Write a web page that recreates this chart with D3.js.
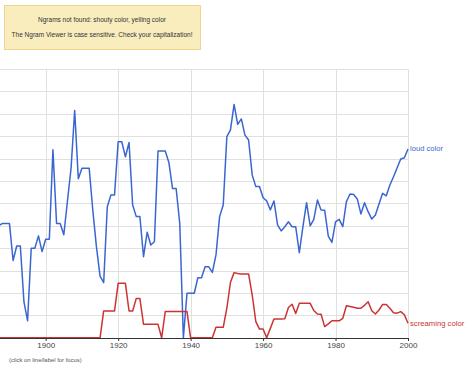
<!DOCTYPE html>
<html>
<head>
<meta charset="utf-8">
<script src="https://cdn.jsdelivr.net/npm/d3@7"></script>
<style>
  body { margin: 0; background: #fff; }
  svg { display: block; font-family: "Liberation Sans", Arial, sans-serif; }
</style>
</head>
<body>
<div id="chart"></div>
<script>
// Ngram chart: "loud color" vs "screaming color" (y axis cut off on the left)
const years = d3.range(1887, 2001);

const loudColor = [
    5.0, 5.1, 5.1, 5.1, 3.45, 4.1, 4.1, 1.6, 0.76, 4.0,          // 1887-1896
    4.0, 4.55, 3.85, 4.4, 4.4, 8.4, 5.1, 5.1, 4.6, 6.1,          // 1897-1906
    7.57, 10.15, 7.1, 7.57, 7.57, 7.57, 5.7, 4.07, 2.75, 2.46,   // 1907-1916
    5.85, 6.38, 6.38, 8.75, 8.75, 8.08, 8.72, 5.93, 5.41, 5.41,  // 1917-1926
    3.62, 4.71, 4.14, 4.29, 8.34, 8.34, 8.34, 7.83, 6.67, 6.67,  // 1927-1936
    5.11, 0.0, 1.99, 1.99, 1.99, 2.68, 2.68, 3.17, 3.17, 2.92,   // 1937-1946
    3.7, 5.41, 5.93, 8.98, 9.28, 10.42, 9.53, 9.77, 9.05, 8.83,  // 1947-1956
    7.27, 6.75, 6.75, 6.25, 6.11, 5.71, 6.11, 5.04, 4.77, 4.96,  // 1957-1966
    5.18, 4.96, 4.96, 3.8, 4.96, 6.03, 5.0, 5.29, 6.15, 5.71,    // 1967-1976
    5.69, 4.54, 4.26, 5.18, 5.29, 4.96, 6.08, 6.42, 6.4, 6.2,    // 1977-1986
    5.53, 6.03, 5.63, 5.3, 5.48, 5.97, 6.45, 6.34, 6.82, 7.19,   // 1987-1996
    7.59, 7.98, 8.04, 8.43                                       // 1997-2000
];

const screamingColor = [
    0, 0, 0, 0, 0, 0, 0, 0, 0, 0,                                // 1887-1896
    0, 0, 0, 0, 0, 0, 0, 0, 0, 0,                                // 1897-1906
    0, 0, 0, 0, 0, 0, 0, 0, 0, 1.2,                              // 1907-1916
    1.2, 1.2, 1.2, 2.43, 2.43, 2.43, 1.2, 1.2, 1.76, 1.76,       // 1917-1926
    0.6, 0.6, 0.6, 0.6, 0.6, 0, 1.17, 1.17, 1.17, 1.17,          // 1927-1936
    1.17, 1.17, 1.17, 0, 0, 0, 0, 0, 0, 0,                       // 1937-1946
    0.47, 0.47, 0.47, 1.32, 2.48, 2.91, 2.87, 2.85, 2.85, 2.85,  // 1947-1956
    1.91, 0.72, 0.39, 0.39, 0.0, 0.42, 0.84, 0.84, 0.84, 0.85,   // 1957-1966
    1.35, 1.5, 1.09, 1.54, 1.54, 1.54, 1.54, 1.22, 1.06, 1.05,   // 1967-1976
    0.5, 0.62, 0.76, 0.76, 0.76, 0.87, 1.43, 1.4, 1.36, 1.32,    // 1977-1986
    1.32, 1.45, 1.61, 1.21, 1.06, 1.24, 1.49, 1.49, 1.32, 1.12,  // 1987-1996
    1.1, 1.17, 1.03, 0.65                                        // 1997-2000
];

const seriesNames = ["loud color", "screaming color"];
const xTicks = [1900, 1920, 1940, 1960, 1980, 2000];
const noticeLines = [
    "Ngrams not found: shouty color, yelling color",
    "The Ngram Viewer is case sensitive. Check your capitalization!"
];
const footnote = "(click on line/label for focus)";

const colors = { loud: "#3b66d2", screaming: "#cc3333", grid: "#e0e0e0", axis: "#333" };

const width = 474, height = 371;
const plot = { left: 0, right: 408, top: 69, bottom: 337.8 };

const svg = d3.select("#chart").append("svg")
    .attr("width", width)
    .attr("height", height);

// notice box
const box = svg.append("g");
box.append("rect")
    .attr("x", 4.5).attr("y", 5.5)
    .attr("width", 196).attr("height", 44)
    .attr("fill", "#f9edbe")
    .attr("stroke", "#f0d58e");
box.selectAll("text")
    .data(noticeLines)
    .enter().append("text")
    .attr("x", 102)
    .attr("y", (d, i) => 21.5 + i * 15.5)
    .attr("text-anchor", "middle")
    .style("font-size", "6.5px")
    .style("fill", "#333")
    .text(d => d);

// scales
const x = d3.scaleLinear().domain([1900, 2000]).range([45.7, plot.right]);
const y = d3.scaleLinear().domain([0, 12]).range([plot.bottom, plot.top]);

// grid
svg.append("g").selectAll("line")
    .data(y.ticks(12))
    .enter().append("line")
    .attr("x1", plot.left).attr("x2", plot.right)
    .attr("y1", d => Math.round(y(d)) + 0.5).attr("y2", d => Math.round(y(d)) + 0.5)
    .attr("stroke", colors.grid);

svg.append("g").selectAll("line")
    .data(xTicks)
    .enter().append("line")
    .attr("x1", d => Math.round(x(d)) + 0.5).attr("x2", d => Math.round(x(d)) + 0.5)
    .attr("y1", plot.top).attr("y2", plot.bottom)
    .attr("stroke", colors.grid);

// lines
const line = d3.line()
    .x((d, i) => x(years[i]))
    .y(d => y(d));

svg.append("path")
    .datum(loudColor)
    .attr("fill", "none")
    .attr("stroke", colors.loud)
    .attr("stroke-width", 1.5)
    .attr("stroke-linejoin", "round")
    .attr("d", line);

svg.append("path")
    .datum(screamingColor)
    .attr("fill", "none")
    .attr("stroke", colors.screaming)
    .attr("stroke-width", 1.5)
    .attr("stroke-linejoin", "round")
    .attr("d", line);

// baseline + x axis
svg.append("line")
    .attr("x1", plot.left).attr("x2", plot.right)
    .attr("y1", 338.5).attr("y2", 338.5)
    .attr("stroke", colors.axis);

const xAxis = d3.axisBottom(x)
    .tickValues(xTicks)
    .tickFormat(d3.format("d"))
    .tickSizeInner(3)
    .tickSizeOuter(0)
    .tickPadding(1);

const axisG = svg.append("g")
    .attr("transform", "translate(0,338)")
    .call(xAxis);
axisG.select(".domain").remove();
axisG.selectAll("line").attr("stroke", colors.axis);
axisG.selectAll("text")
    .style("font-family", "Liberation Sans, Arial, sans-serif")
    .style("font-size", "8px")
    .style("fill", "#444");

// series labels at the line ends
const last = years.length - 1;
svg.append("text")
    .attr("x", plot.right + 2)
    .attr("y", y(loudColor[last]) - 1)
    .attr("dy", "0.35em")
    .style("font-size", "7.6px")
    .style("fill", colors.loud)
    .text(seriesNames[0]);

svg.append("text")
    .attr("x", plot.right + 2)
    .attr("y", y(screamingColor[last]))
    .attr("dy", "0.35em")
    .style("font-size", "7.7px")
    .style("fill", colors.screaming)
    .text(seriesNames[1]);

svg.append("text")
    .attr("x", 9)
    .attr("y", 361.5)
    .style("font-size", "5.9px")
    .style("fill", "#555")
    .text(footnote);
</script>
</body>
</html>
